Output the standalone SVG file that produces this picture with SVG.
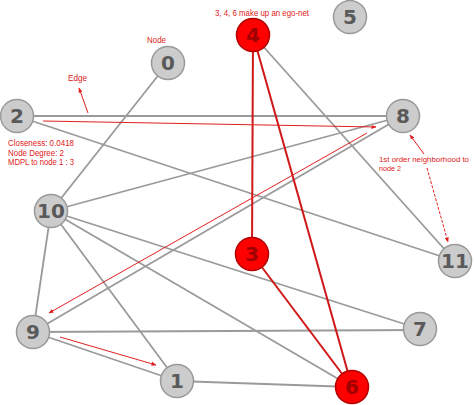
<svg xmlns="http://www.w3.org/2000/svg" width="474" height="405" viewBox="0 0 474 405">
<style>
.e{stroke:#9a9a9a;stroke-width:1.8;fill:none}
.r{stroke:#d01818;stroke-width:2;fill:none}
.a{stroke:#e02020;stroke-width:1;fill:none}
.d{stroke:#e02020;stroke-width:1;fill:none;stroke-dasharray:3 1.5}
.g circle{fill:#cccccc;stroke:#999;stroke-width:1.5}
.g text{fill:#5a5a5a;font-family:"DejaVu Sans",sans-serif;font-weight:bold;font-size:20px;text-anchor:middle}
.n circle{fill:#ff0000;stroke:#b00000;stroke-width:1.5}
.n text{fill:#a00000;font-family:"DejaVu Sans",sans-serif;font-weight:bold;font-size:20px;text-anchor:middle}
.t{fill:#e02020;font-family:"Liberation Sans",Arial,sans-serif;font-size:8.5px}
.s{font-size:7.5px}
</style>
<defs>
<marker id="ah" viewBox="0 0 10 10" refX="9" refY="5" markerWidth="5" markerHeight="5" orient="auto-start-reverse">
<path d="M0,1 L10,5 L0,9 z" fill="#e02020"/>
</marker>
</defs>
<rect width="474" height="405" fill="#fff"/>
<g id="connectors">
<line class="e" x1="17" y1="116" x2="403" y2="116"/>
<line class="e" x1="17" y1="116" x2="455" y2="261"/>
<line class="e" x1="168" y1="63" x2="51" y2="211"/>
<line class="e" x1="51" y1="211" x2="403" y2="116"/>
<line class="e" x1="33" y1="332" x2="403" y2="116"/>
<line class="e" x1="253" y1="35" x2="455" y2="261"/>
<line class="e" x1="51" y1="211" x2="33" y2="332"/>
<line class="e" x1="51" y1="211" x2="177" y2="381"/>
<line class="e" x1="51" y1="211" x2="352" y2="387"/>
<line class="e" x1="51" y1="211" x2="420" y2="329"/>
<line class="e" x1="33" y1="332" x2="420" y2="330"/>
<line class="e" x1="33" y1="332" x2="177" y2="381"/>
<line class="e" x1="177" y1="381" x2="352" y2="387"/>
<line class="r" x1="253" y1="35" x2="252" y2="254"/>
<line class="r" x1="253" y1="35" x2="352" y2="387"/>
<line class="r" x1="252" y1="254" x2="352" y2="387"/>
</g>
<g id="annotations">
<line class="a" x1="88" y1="113" x2="79" y2="88" marker-end="url(#ah)"/>
<line class="a" x1="43" y1="121" x2="376" y2="127" marker-end="url(#ah)"/>
<line class="a" x1="367" y1="133" x2="49" y2="313" marker-end="url(#ah)"/>
<line class="a" x1="60" y1="337" x2="156" y2="365" marker-end="url(#ah)"/>
<line class="a" x1="424" y1="154" x2="410" y2="135" marker-end="url(#ah)"/>
<line class="d" x1="427" y1="168" x2="448" y2="242" marker-end="url(#ah)"/>
<text class="t" x="215" y="16" textLength="94" lengthAdjust="spacingAndGlyphs">3, 4, 6 make up an ego-net</text>
<text class="t" x="147" y="43" textLength="19" lengthAdjust="spacingAndGlyphs">Node</text>
<text class="t" x="68" y="81" textLength="19" lengthAdjust="spacingAndGlyphs">Edge</text>
<text class="t" x="8" y="146" textLength="66" lengthAdjust="spacingAndGlyphs">Closeness: 0.0418</text>
<text class="t" x="8" y="156" textLength="56" lengthAdjust="spacingAndGlyphs">Node Degree: 2</text>
<text class="t" x="8" y="165" textLength="66" lengthAdjust="spacingAndGlyphs">MDPL to node 1 : 3</text>
<text class="t s" x="379" y="162" textLength="90" lengthAdjust="spacingAndGlyphs">1st order neighborhood to</text>
<text class="t s" x="379" y="171" textLength="22" lengthAdjust="spacingAndGlyphs">node 2</text>
</g>
<g id="node0" class="g"><circle cx="168" cy="63" r="16.5"/><text x="168" y="70">0</text></g>
<g id="node1" class="g"><circle cx="177" cy="381" r="16.5"/><text x="177" y="388">1</text></g>
<g id="node2" class="g"><circle cx="17" cy="116" r="16.5"/><text x="17" y="123">2</text></g>
<g id="node3" class="n"><circle cx="252" cy="254" r="16.5"/><text x="252" y="261">3</text></g>
<g id="node4" class="n"><circle cx="253" cy="35" r="16.5"/><text x="253" y="42">4</text></g>
<g id="node5" class="g"><circle cx="350" cy="17" r="16.5"/><text x="350" y="24">5</text></g>
<g id="node6" class="n"><circle cx="352" cy="387" r="16.5"/><text x="352" y="394">6</text></g>
<g id="node7" class="g"><circle cx="420" cy="329" r="16.5"/><text x="420" y="336">7</text></g>
<g id="node8" class="g"><circle cx="403" cy="116" r="16.5"/><text x="403" y="123">8</text></g>
<g id="node9" class="g"><circle cx="33" cy="332" r="16.5"/><text x="33" y="339">9</text></g>
<g id="node10" class="g"><circle cx="51" cy="211" r="16.5"/><text x="51" y="218">10</text></g>
<g id="node11" class="g"><circle cx="455" cy="261" r="16.5"/><text x="455" y="268">11</text></g>
</svg>
